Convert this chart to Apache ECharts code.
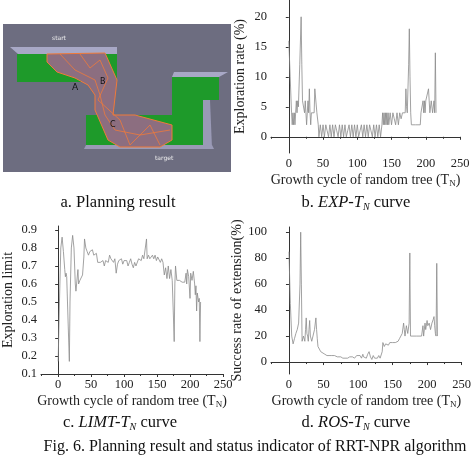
<!DOCTYPE html>
<html><head><meta charset="utf-8">
<script src="https://cdn.jsdelivr.net/npm/echarts@6/dist/echarts.min.js"></script>
<style>html,body{margin:0;padding:0;background:#fff}#c{width:474px;height:459px}</style>
</head><body><div id="c"></div>
<script>
const xTicks=[0,50,100,150,200,250];
const expX=[0,2,4,5,6,7,8,9,10,11,12,13,14,16,18,19,20,21,23,24,25,26,27,28,29,30,31,32,33,35,37,38,40,41,42,43,
44,46,48,50,52,54,56,58,60,62,64,66,68,70,72,74,76,78,80,82,84,86,88,90,92,94,96,98,100,102,104,106,108,110,112,114,116,118,120,122,124,126,128,130,132,134,
136,137,138,139,140,141,142,143,144,145,146,148,150,152,154,156,158,160,162,164,166,168,170,171,172,173,175,176,177,178,179,185,192,193,195,196,197,198,199,200,202,204,205,206,208,210,212,213,214,215];
const expY=[16,10,4,2,4,2,4,2,4,6,4,6,5,12,20,12,6,6,4,6,4,2,4,6,4,8,4,2,4,4,4,8,8,4,4,2,
0,2,0,2,0,2,1,0,2,0,2,0,2,1,0,2,0,2,0,2,0,1,2,0,2,0,2,0,2,0,1,2,0,2,0,2,0,2,1,0,2,0,2,0,2,0,
2,4,2,4,2,4,2,4,2,4,2,4,2,4,3,2,4,2,4,3,4,4,4,8,5,4,12,18,10,4,2,2,2,4,4,6,4,6,4,6,6,8,6,4,6,4,6,4,14,4];
const limX=[0,2,4,6,8,10,11,12,13,15,17,18,20,22,24,26,27,28,30,31,33,35,37,39,40,42,44,46,48,50,52,54,56,58,60,62,64,66,68,70,72,74,76,78,80,82,84,86,88,90,92,94,96,98,100,102,104,106,108,110,112,114,116,118,120,122,124,126,128,130,132,134,135,137,139,141,143,145,147,149,151,153,155,157,159,161,162,163,165,167,169,171,173,175,176,177,178,180,184,188,192,194,195,196,198,200,201,203,205,206,207,208,209,210,211,213,214,215,216];
const limY=[0.17,0.5,0.8,0.86,0.78,0.68,0.64,0.66,0.64,0.4,0.17,0.5,0.8,0.87,0.8,0.6,0.56,0.6,0.68,0.6,0.62,0.62,0.65,0.75,0.85,0.8,0.78,0.76,0.78,0.77,0.79,0.76,0.77,0.77,0.72,0.71,0.72,0.71,0.73,0.7,0.73,0.74,0.72,0.76,0.74,0.75,0.72,0.74,0.66,0.71,0.73,0.72,0.74,0.71,0.73,0.72,0.73,0.7,0.72,0.74,0.71,0.69,0.72,0.7,0.69,0.74,0.75,0.73,0.76,0.74,0.73,0.85,0.74,0.76,0.74,0.73,0.76,0.74,0.76,0.73,0.75,0.76,0.72,0.74,0.72,0.65,0.64,0.69,0.63,0.7,0.63,0.68,0.62,0.4,0.28,0.6,0.7,0.62,0.62,0.61,0.61,0.66,0.6,0.68,0.64,0.52,0.66,0.62,0.67,0.68,0.6,0.54,0.59,0.45,0.55,0.5,0.52,0.28,0.5];
const rosX=[0,2,4,6,8,10,12,14,16,17,18,19,21,23,24,25,26,27,28,29,30,31,33,35,37,39,40,41,42,44,46,48,52,55,58,60,62,64,66,70,72,75,78,80,85,88,90,92,95,98,100,103,105,107,108,110,112,114,116,118,120,122,124,126,128,130,132,134,135,136,138,140,142,144,146,148,150,152,154,156,158,160,162,164,166,167,168,170,172,174,175,176,178,185,192,194,195,197,198,200,201,203,205,207,209,210,211,212,213,214,215];
const rosY=[85,45,20,14,18,22,25,30,60,100,60,16,20,16,25,34,22,20,16,25,32,20,16,16,25,34,25,18,12,10,8,7,6,5,5,4,5,4,5,4,5,4,3,4,3,4,5,4,3,5,4,5,3,6,4,5,3,6,8,4,2,5,3,4,3,5,3,2,8,15,12,14,15,13,15,14,15,14,15,15,16,18,20,22,30,25,20,28,22,30,84,20,20,20,20,28,20,30,25,32,28,30,25,30,33,35,28,22,20,76,20];
const zip=(a,b)=>a.map((v,i)=>[v,b[i]]);
const F='Liberation Serif, DejaVu Serif, serif';
const chart=echarts.init(document.getElementById('c'));
function ax(gi,min,max,ticks,name,gap,minor){
  return {gridIndex:gi,type:'value',min:min,max:max,name:name,nameLocation:'middle',nameGap:gap,
    nameTextStyle:{fontFamily:F,fontSize:14,color:'#222',rich:{s:{fontFamily:F,fontSize:9,verticalAlign:'bottom',padding:[7,0,0,0]}}},
    axisLine:{show:true,lineStyle:{color:'#333',width:1}},splitLine:{show:false},
    axisTick:{show:true,inside:false,length:3,customValues:ticks,lineStyle:{color:'#333'}},
    minorTick:{show:minor,splitNumber:2,length:2,lineStyle:{color:'#333'}},
    axisLabel:{customValues:ticks,fontFamily:F,fontSize:12.5,color:'#222',margin:4}};
}
const xName='Growth cycle of random tree (T{s|N})';
const ser=(i,d)=>({type:'line',xAxisIndex:i,yAxisIndex:i,data:d,showSymbol:false,lineStyle:{color:'#8a8a8a',width:0.8},animation:false});
const cap=(x,y,r)=>({type:'text',x:x,y:y,style:{align:'center',rich:{n:{fontFamily:F,fontSize:16.5,fill:'#111'},i:{fontFamily:F,fontSize:16.5,fontStyle:'italic',fill:'#111'},s:{fontFamily:F,fontSize:10,fontStyle:'italic',fill:'#111',padding:[8,0,0,0]}},text:r}});
const img=[
 {type:'rect',shape:{x:3,y:24,width:228,height:148},style:{fill:'#6d6d80'}},
 {type:'polygon',shape:{points:[[10,47],[117,47],[117,54],[18,54]]},style:{fill:'#a8a8c6'}},
 {type:'rect',shape:{x:17,y:54,width:100,height:28},style:{fill:'#1e9a2a'}},
 {type:'polygon',shape:{points:[[172,77],[174,72],[228,72],[219,77]]},style:{fill:'#a8a8c6'}},
 {type:'polygon',shape:{points:[[86,115],[172,115],[172,77],[219,77],[219,100],[203,100],[203,145],[86,145]]},style:{fill:'#1e9a2a'}},
 {type:'polygon',shape:{points:[[203,100],[210,100],[212,148],[203,145]]},style:{fill:'#9a9ab6'}},
 {type:'polygon',shape:{points:[[86,145],[212,145],[214,149],[84,149]]},style:{fill:'#9a9ab6'}},
 {type:'polygon',shape:{points:[[47,54],[105,53],[117,80],[113,115],[135,115],[172,125],[172,140],[160,147],[120,147],[108,140],[95,110],[95,95],[88,85],[75,78],[57,72],[47,62]]},style:{fill:'#8c6e80',stroke:'#f07a3a',lineWidth:1}},
 {type:'polyline',shape:{points:[[60,54],[75,70],[95,80],[100,95],[105,115],[115,130],[140,135],[170,130]]},style:{stroke:'#f07a3a',lineWidth:0.8,fill:null}},
 {type:'polyline',shape:{points:[[80,54],[90,68],[100,60],[108,78],[98,100],[120,120],[130,145],[150,125],[160,145]]},style:{stroke:'#f07a3a',lineWidth:0.8,fill:null}},
 {type:'text',left:52,top:35,style:{text:'start',fontSize:6,fill:'#eee',fontFamily:'DejaVu Sans'}},
 {type:'text',left:72,top:83,style:{text:'A',fontSize:9,fill:'#111',fontFamily:'DejaVu Sans'}},
 {type:'text',left:100,top:78,style:{text:'B',fontSize:8,fill:'#111',fontFamily:'DejaVu Sans'}},
 {type:'text',left:110,top:121,style:{text:'C',fontSize:8,fill:'#111',fontFamily:'DejaVu Sans'}},
 {type:'text',left:155,top:155,style:{text:'target',fontSize:6,fill:'#eee',fontFamily:'DejaVu Sans'}}
];
chart.setOption({
 animation:false,
 grid:[{left:271,top:0,width:189,height:153},{left:33,top:226,width:190,height:148},{left:271,top:227,width:194,height:147}],
 xAxis:[ax(0,-26,250,xTicks,xName,19,true),ax(1,-26,250,xTicks,xName,19,true),ax(2,-26,250,xTicks,xName,19,true)],
 yAxis:[ax(0,-2.7,22.8,[0,5,10,15,20],'Exploration rate (%)',24,false),
        ax(1,0.1,0.922,[0.1,0.2,0.3,0.4,0.5,0.6,0.7,0.8,0.9],'Exploration limit',26,false),
        ax(2,-9.2,104,[0,20,40,60,80,100],'Success rate of extension(%)',26,false)],
 series:[ser(0,zip(expX,expY)),ser(1,zip(limX,limY)),ser(2,zip(rosX,rosY))],
 graphic:img.concat([
  cap(118,194,'{n|a. Planning result}'),
  cap(356,194,'{n|b. }{i|EXP-T}{s|N}{n| curve}'),
  cap(120,414,'{n|c. }{i|LIMT-T}{s|N}{n| curve}'),
  cap(356,414,'{n|d. }{i|ROS-T}{s|N}{n| curve}'),
  {type:'text',x:255,y:439,style:{align:'center',text:'Fig. 6. Planning result and status indicator of RRT-NPR algorithm',fontFamily:F,fontSize:16,fill:'#111'}}
 ])
});
</script></body></html>
